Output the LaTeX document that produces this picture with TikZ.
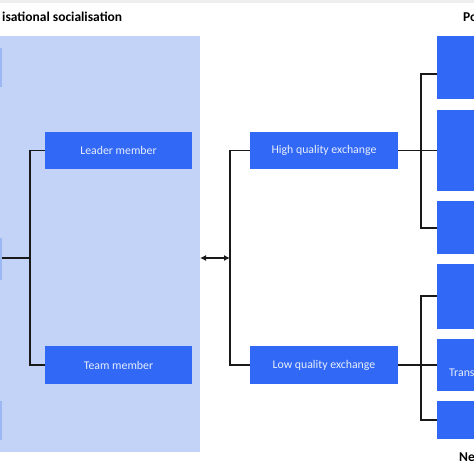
\documentclass[tikz,border=0pt]{standalone}
\usepackage{fontspec}
\setmainfont{Carlito}
\usetikzlibrary{arrows.meta}
\definecolor{boxblue}{RGB}{49,104,245}
\definecolor{panelblue}{RGB}{194,211,247}
\definecolor{stripblue}{RGB}{155,184,242}
\definecolor{boxtext}{RGB}{232,238,252}
\definecolor{topgray}{RGB}{238,238,238}
\begin{document}
\begin{tikzpicture}[x=1pt,y=-1pt,
  box/.style={fill=boxblue, draw=none, inner sep=0pt, text=boxtext,
    font=\fontsize{11.8}{14}\selectfont},
  strip/.style={fill=stripblue, draw=none, inner sep=0pt, minimum width=2pt},
  conn/.style={draw=black!90, line width=1.2pt},
  head/.style={font=\bfseries\fontsize{13.5}{16}\selectfont, inner sep=0pt}
  ]
\useasboundingbox (0,0) rectangle (474,474);
\fill[white] (0,0) rectangle (474,474);
\fill[topgray] (0,0) rectangle (474,2.5);
% panel
\fill[panelblue] (0,36) rectangle (200,452);
% left strips
\node[strip, minimum height=39pt] (ls1) at (1,67.5) {};
\node[strip, minimum height=42pt] (ls2) at (1,259) {};
\node[strip, minimum height=39pt] (ls3) at (1,420) {};
% headings
\node[head, anchor=base west] (t1) at (2,21) {isational socialisation};
\node[head, anchor=base west] (t2) at (463,21) {Po};
\node[head, anchor=base west] (t3) at (459,461) {Ne};
% middle boxes
\node[box, minimum width=147pt, minimum height=37pt] (lead) at (118.5,150.5) {Leader member};
\node[box, minimum width=147pt, minimum height=38pt] (team) at (118.5,365) {Team member};
\node[box, minimum width=148pt, minimum height=37pt] (high) at (324,150.5) {High quality exchange};
\node[box, minimum width=148pt, minimum height=38pt] (low) at (324,365) {Low quality exchange};
% right boxes
\node[box, anchor=north west, minimum width=37pt, minimum height=63pt] (r1) at (437,36) {};
\node[box, anchor=north west, minimum width=37pt, minimum height=81pt] (r2) at (437,110) {};
\node[box, anchor=north west, minimum width=37pt, minimum height=53pt] (r3) at (437,201) {};
\node[box, anchor=north west, minimum width=37pt, minimum height=65pt] (r4) at (437,264) {};
\node[box, anchor=north west, minimum width=37pt, minimum height=52pt] (r5) at (437,339) {};
\node[box, anchor=north west, minimum width=37pt, minimum height=38pt] (r6) at (437,401) {};
\node[anchor=base west, inner sep=0pt, text=boxtext, font=\fontsize{11.8}{14}\selectfont] (r5t) at (449,376) {Trans};
% junction coordinates
\coordinate (jl) at (30,258);
\coordinate (jm) at (230,258);
\coordinate (ja) at (421,74);
\coordinate (jb) at (421,228);
\coordinate (jc) at (421,296);
\coordinate (jd) at (421,420);
% left tree
\draw[conn] (ls2.east |- jl) -- (jl);
\draw[conn] (lead.west) -| (jl) |- (team.west);
% middle tree
\draw[conn] (high.west) -| (jm) |- (low.west);
\draw[conn, {Latex[length=6pt,width=6pt]}-{Latex[length=6pt,width=6pt]}] (200,258) -- (jm);
% right trees
\draw[conn] (high.east) -- (high.east -| r2.west);
\draw[conn] (ja -| r1.west) -- (ja) -- (jb) -- (jb -| r3.west);
\draw[conn] (low.east) -- (low.east -| r5.west);
\draw[conn] (jc -| r4.west) -- (jc) -- (jd) -- (jd -| r6.west);
\end{tikzpicture}
\end{document}
